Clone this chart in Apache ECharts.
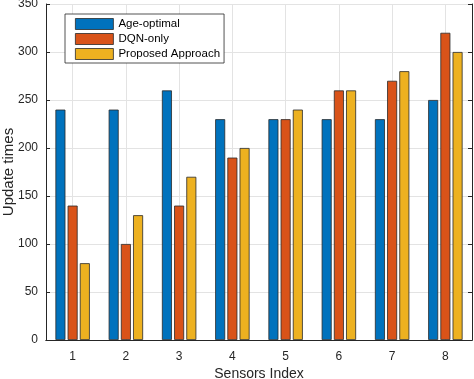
<!DOCTYPE html>
<html><head><meta charset="utf-8">
<script src="https://cdn.jsdelivr.net/npm/echarts@6/dist/echarts.min.js"></script>
<style>html,body{margin:0;padding:0;background:#fff}#c{width:474px;height:379px}</style>
</head><body><div id="c"></div>
<script>
const categories = ['1','2','3','4','5','6','7','8'];
const ageOptimal = [240, 240, 260, 230, 230, 230, 230, 250];
const dqnOnly = [140, 100, 140, 190, 230, 260, 270, 320];
const proposed = [80, 130, 170, 200, 240, 260, 280, 300];
const yTicks = [0, 50, 100, 150, 200, 250, 300, 350];

const chart = echarts.init(document.getElementById('c'));
const font = 'Helvetica, Arial, "Liberation Sans", sans-serif';
const barBase = {type:'bar', barWidth:10, barGap:'22%', itemStyle:{borderColor:'#2a2a2a', borderWidth:0.8}};
chart.setOption({
  animation:false,
  textStyle:{fontFamily:font},
  grid:{left:46, right:2, top:4, bottom:39, containLabel:false, outerBoundsMode:'none'},
  legend:{
    left:65, top:14, orient:'vertical', itemWidth:38, itemHeight:11, itemGap:3,
    padding:[4,4,3,10], backgroundColor:'#fff', borderColor:'#262626', borderWidth:0.8, borderRadius:0,
    textStyle:{fontSize:11.5, color:'#000', fontFamily:font},
    icon:'rect',
    itemStyle:{borderColor:'#2a2a2a', borderWidth:0.8}
  },
  xAxis:[
    {type:'category', data:categories, position:'bottom',
     name:'Sensors Index', nameLocation:'middle', nameGap:27, nameMoveOverlap:false,
     nameTextStyle:{fontSize:14, color:'#262626'},
     axisLine:{lineStyle:{color:'#262626', width:1}},
     axisTick:{inside:true, alignWithLabel:true, length:4, lineStyle:{color:'#262626'}},
     axisLabel:{fontSize:12, color:'#262626', margin:11},
     splitLine:{show:false}},
    {type:'category', data:categories, position:'top',
     axisLine:{lineStyle:{color:'#262626', width:1}},
     axisTick:{inside:true, alignWithLabel:true, length:4, lineStyle:{color:'#262626'}},
     axisLabel:{show:false}, splitLine:{show:false}},
    {type:'value', min:0.5, max:8.5, splitNumber:8, show:true, position:'bottom',
     axisLine:{show:false}, axisTick:{show:false}, axisLabel:{show:false},
     splitLine:{show:true, lineStyle:{color:'#e3e3e3', width:1}}}
  ],
  yAxis:[
    {type:'value', min:0, max:350, interval:50, position:'left',
     name:'Update times', nameLocation:'middle', nameGap:30, nameMoveOverlap:false,
     nameTextStyle:{fontSize:15, color:'#262626'},
     axisLine:{show:true, lineStyle:{color:'#262626', width:1}},
     axisTick:{show:true, inside:true, length:4, lineStyle:{color:'#262626'}},
     axisLabel:{fontSize:12, color:'#262626', margin:8},
     splitLine:{show:true, lineStyle:{color:'#e3e3e3', width:1}}},
    {type:'value', min:0, max:350, interval:50, position:'right',
     axisLine:{show:true, lineStyle:{color:'#262626', width:1}},
     axisTick:{show:true, inside:true, length:4, lineStyle:{color:'#262626'}},
     axisLabel:{show:false}, splitLine:{show:false}}
  ],
  series:[
    Object.assign({}, barBase, {name:'Age-optimal', data:ageOptimal, itemStyle:Object.assign({}, barBase.itemStyle, {color:'#0072BD'})}),
    Object.assign({}, barBase, {name:'DQN-only', data:dqnOnly, itemStyle:Object.assign({}, barBase.itemStyle, {color:'#D95319'})}),
    Object.assign({}, barBase, {name:'Proposed Approach', data:proposed, itemStyle:Object.assign({}, barBase.itemStyle, {color:'#EDB120'})})
  ]
});
</script></body></html>
